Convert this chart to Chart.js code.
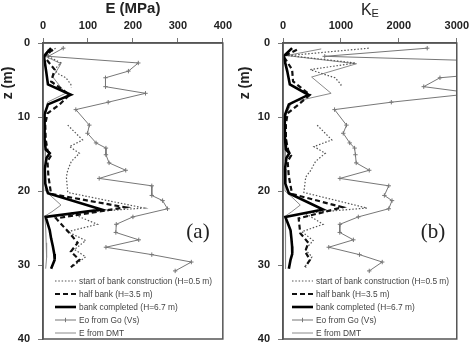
<!DOCTYPE html>
<html><head><meta charset="utf-8">
<script src="https://cdn.jsdelivr.net/npm/chart.js@4.4.1/dist/chart.umd.min.js"></script>
<style>
html,body{margin:0;padding:0;background:#fff;width:474px;height:348px;overflow:hidden}
.p{position:absolute;top:0;width:237px;height:348px}
</style></head><body>
<div class="p" style="left:0"><canvas id="cA" width="237" height="348"></canvas></div>
<div class="p" style="left:237px"><canvas id="cB" width="237" height="348"></canvas></div>
<script>
// ---- data (depth z in m; E in MPa; K_E dimensionless) ----
const depthEo = [0.7, 1.8, 2.7, 3.8, 4.7, 5.9, 6.8, 8.0, 9.0, 11.1, 12.2, 13.5, 14.2, 15.1, 16.2, 17.2, 18.3, 19.3, 20.6, 21.3, 22.4, 23.5, 24.5, 25.6, 26.6, 27.6, 28.6, 29.6, 30.8];
const eoE = [45, 12, 212, 190, 139, 139, 228, 145, 73, 103, 99, 118, 140, 140, 147, 184, 125, 242, 242, 266, 277, 200, 163, 162, 213, 140, 242, 330, 294];
const eoK = [2490, 720, 4700, 4000, 2710, 2430, 3300, 1870, 890, 1096, 1040, 1152, 1236, 1250, 1264, 1489, 983, 1826, 1750, 1882, 1826, 1300, 983, 980, 1215, 790, 1320, 1713, 1489];

const depthStart = [0.7, 1.7, 2.7, 3.6, 4.2, 4.7, 5.6, 6.0, null, 11.1, 13.1, 14.0, 14.9, 16.0, 17.2, 18.1, 20.2, 22.3, 23.0, 24.5, 25.5, 26.7, 27.9, 28.9, 30.2];
const startE = [28, 8, 40, 25, 35, 51, 62, 63, null, 55, 88, 59, 81, 63, 55, 52, 55, 225, 62, 121, 55, 95, 70, 95, 66];
const startK = [1480, 100, 1250, 470, 700, 900, 1000, 1000, null, 590, 843, 534, 730, 562, 480, 393, 360, 1450, 382, 691, 326, 522, 382, 500, 382];

const depthHalf = [0.9, 1.8, 3.6, 5.2, 7.0, 8.3, 9.5, 11.0, 13.0, 14.5, 15.2, 16.0, 18.0, 20.4, 22.2, 23.7, 25.7, 27.0, 28.2, 29.3, 30.3];
const halfE = [22, 2, 26, 18, 59, 37, 10, 5, 6, 10, 18, 10, 12, 18, 183, 29, 59, 77, 62, 81, 62];
const halfK = [240, 10, 157, 174, 466, 270, 80, 50, 50, 90, 140, 80, 100, 157, 1028, 270, 298, 438, 382, 466, 382];

const depthDone = [0.7, 1.8, 3.8, 5.6, 7.0, 8.3, 9.7, 11.0, 13.0, 14.4, 14.9, 15.5, 17.0, 19.0, 20.3, 22.5, 23.5, 24.3, 25.3, 26.4, 27.5, 28.5, 29.3, 30.5];
const doneE = [18, 2, 7, 11, 62, 11, 3, 3, 4, 6, 15, 8, 4, 5, 11, 130, 6, 10, 15, 18, 22, 25, 26, 18];
const doneK = [157, 10, 73, 118, 438, 101, 34, 30, 35, 50, 110, 60, 35, 40, 101, 691, 40, 80, 130, 145, 157, 160, 130, 101];

const depthDmt = [0.8, 1.7, 2.8, 4.6, 6.8, 8.0, 10, 12, 14, 16, 18, 20, 20.8, 21.9, 22.8, 23.4, 25, 27, 29, 30.5];
const dmtE = [12, 2, 40, 22, 50, 10, 4, 4, 5, 5, 5, 6, 20, 40, 20, 4, 6, 7, 8, 6];
const dmtK = [660, 60, 1270, 494, 831, 150, 40, 35, 40, 35, 30, 35, 150, 298, 150, 40, 40, 45, 50, 40];

const eTicks = [0, 100, 200, 300, 400];
const kTicks = [0, 1000, 2000, 3000];
const zTicks = [0, 10, 20, 30, 40];
const legendLabels = ['start of bank construction (H=0.5 m)', 'half bank (H=3.5 m)', 'bank completed (H=6.7 m)', 'Eo from Go (Vs)', 'E from DMT'];

// ---- styles ----
const FONT = '"Liberation Sans", Arial, sans-serif';
Chart.defaults.font.family = FONT;
const styles = [
  {color:'#555', width:1.2, dash:[1.5,1.8]},
  {color:'#111', width:2.2, dash:[5,3]},
  {color:'#000', width:2.6, dash:[]},
  {color:'#777', width:1, dash:[], point:true},
  {color:'#8a8a8a', width:1, dash:[]}
];

function pts(zs, vs){ return zs.map((z,i)=> (z===null||vs[i]===null) ? {x:null,y:null} : {x:vs[i], y:z}); }

function ds(idx, data){
  const s = styles[idx];
  return {label: legendLabels[idx], data, showLine:true, spanGaps:false, tension:0,
    borderColor:s.color, borderWidth:s.width, borderDash:s.dash,
    pointRadius: s.point?2.2:0, pointStyle:'cross', pointBorderColor:s.color, pointBorderWidth:1,
    pointBackgroundColor:s.color, fill:false};
}

function overlay(cfg){
  return {id:'overlay'+cfg.tag,
    afterDatasetsDraw(chart){
      const {ctx, chartArea:a} = chart;
      ctx.save();
      ctx.strokeStyle='#555'; ctx.lineWidth=1.5; ctx.setLineDash([]);
      ctx.strokeRect(a.left, a.top, a.right-a.left, a.bottom-a.top);
      ctx.restore();
    },
    afterDraw(chart){
      const {ctx, chartArea:a} = chart;
      ctx.save();
      ctx.fillStyle='#222';
      ctx.font='bold 14px '+FONT;
      ctx.textAlign='center'; ctx.textBaseline='middle';
      ctx.translate(8, 83); ctx.rotate(-Math.PI/2);
      ctx.fillText('z (m)', 0, 0);
      ctx.restore();
      ctx.save();
      ctx.fillStyle='#222'; ctx.textBaseline='middle';
      const cx = (a.left+a.right)/2;
      if (cfg.tag==='a'){
        ctx.font='bold 15px '+FONT; ctx.textAlign='center';
        ctx.fillText('E (MPa)', cx, 9);
      } else {
        ctx.font='16px '+FONT;
        const wK = ctx.measureText('K').width;
        ctx.font='11px '+FONT;
        const wE = ctx.measureText('E').width;
        const x0 = cx - (wK+wE)/2;
        ctx.textAlign='left'; ctx.textBaseline='alphabetic';
        ctx.font='16px '+FONT; ctx.fillText('K', x0, 15);
        ctx.font='11px '+FONT; ctx.fillText('E', x0+wK, 17);
      }
      ctx.restore();
      ctx.save();
      ctx.fillStyle='#222'; ctx.font='21px "Liberation Serif", "Times New Roman", serif';
      ctx.textAlign='center'; ctx.textBaseline='middle';
      ctx.fillText(cfg.panel, cfg.panelX, 232);
      ctx.restore();
      styles.forEach((s,i)=>{
        const y = 281 + i*13;
        const x0 = cfg.legX;
        ctx.save();
        ctx.strokeStyle=s.color; ctx.lineWidth=Math.min(s.width,2.8); ctx.setLineDash(s.dash);
        ctx.beginPath(); ctx.moveTo(x0, y); ctx.lineTo(x0+21, y); ctx.stroke();
        ctx.setLineDash([]);
        if (s.point){
          ctx.lineWidth=1; ctx.beginPath(); ctx.moveTo(x0+10.5, y-2.2); ctx.lineTo(x0+10.5, y+2.2); ctx.stroke();
        }
        ctx.fillStyle='#444'; ctx.font='9.5px '+FONT; ctx.textBaseline='middle'; ctx.textAlign='left';
        const w = ctx.measureText(legendLabels[i]).width;
        ctx.fillText(legendLabels[i], x0+24, y, w*0.88);
        ctx.restore();
      });
    }
  };
}

function makeChart(id, xTicks, xMax, series, cfg){
  const datasets = [
    ds(2, pts(depthDone, series.done)),
    ds(1, pts(depthHalf, series.half)),
    ds(0, pts(depthStart, series.start)),
    ds(3, pts(depthEo, series.eo)),
    ds(4, pts(depthDmt, series.dmt))
  ];
  return new Chart(document.getElementById(id), {
    type:'scatter',
    data:{datasets},
    plugins:[overlay(cfg)],
    options:{
      responsive:false, animation:false, devicePixelRatio:1,
      layout:{padding:{left:0, right:cfg.padR, top:0, bottom:9}},
      plugins:{legend:{display:false}, tooltip:{enabled:false}},
      scales:{
        x:{type:'linear', position:'top', min:0, max:xMax,
          afterBuildTicks:s=>{ s.ticks = xTicks.map(v=>({value:v})); },
          afterFit:s=>{ s.height = 43; },
          ticks:{font:{size:11, weight:'bold'}, color:'#222', padding:5, maxRotation:0, callback:v=>String(v)},
          grid:{drawOnChartArea:false, drawTicks:true, tickLength:5, color:'#777'},
          border:{display:true, color:'#555', width:1.5}},
        y:{type:'linear', reverse:true, min:0, max:40,
          afterBuildTicks:s=>{ s.ticks = zTicks.map(v=>({value:v})); },
          afterFit:s=>{ s.width = cfg.yW; s.paddingTop = 0; s.paddingBottom = 0; },
          ticks:{font:{size:11, weight:'bold'}, color:'#222', padding:8, callback:v=>String(v)},
          grid:{drawOnChartArea:false, drawTicks:true, tickLength:5, color:'#777'},
          border:{display:true, color:'#555', width:1.5}}
      }
    }
  });
}

makeChart('cA', eTicks, 400, {eo:eoE, start:startE, half:halfE, done:doneE, dmt:dmtE},
  {tag:'a', padR:12, yW:43, panel:'(a)', panelX:198, legX:55});
makeChart('cB', kTicks, 3000, {eo:eoK, start:startK, half:halfK, done:doneK, dmt:dmtK},
  {tag:'b', padR:14, yW:46, panel:'(b)', panelX:196, legX:55});
</script>
</body></html>
